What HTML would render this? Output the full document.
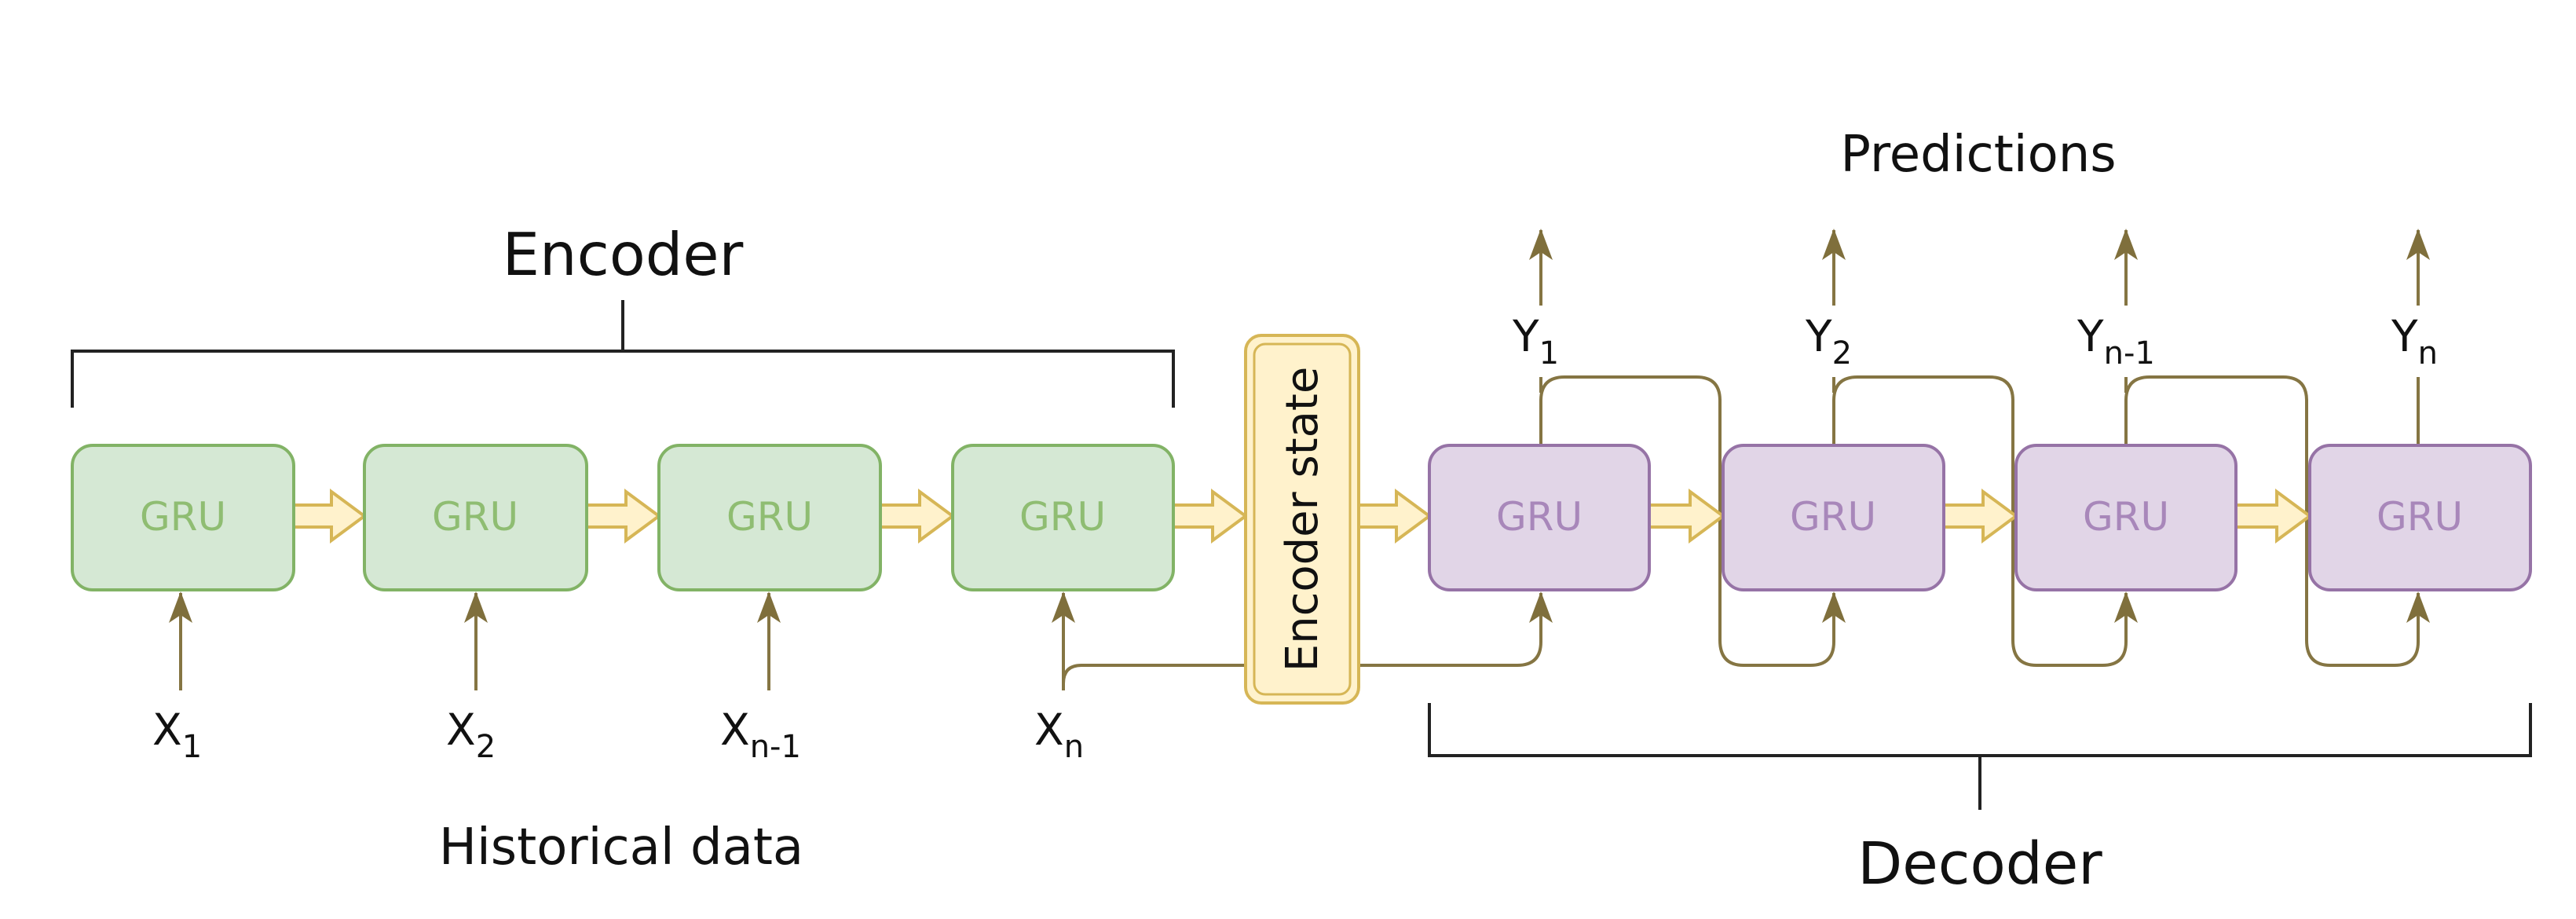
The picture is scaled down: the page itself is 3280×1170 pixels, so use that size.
<!DOCTYPE html>
<html><head><meta charset="utf-8"><style>
html,body{margin:0;padding:0;background:#fff;}
svg{display:block;}
text{font-family:"DejaVu Sans","Liberation Sans",sans-serif;}
</style></head><body>
<svg width="3280" height="1170" viewBox="0 0 3280 1170" xmlns="http://www.w3.org/2000/svg">
<defs>
<marker id="ah" viewBox="0 0 40 30" refX="38" refY="15" markerWidth="40" markerHeight="30" markerUnits="userSpaceOnUse" orient="auto">
<path d="M40,15 L0,0 L10,15 L0,30 Z" fill="#7f6f3c"/>
</marker>
</defs>
<rect width="3280" height="1170" fill="#fff"/>

<!-- Titles -->
<text x="793" y="350" font-size="75" text-anchor="middle" fill="#111">Encoder</text>
<text x="2519" y="218" font-size="64" text-anchor="middle" fill="#111">Predictions</text>
<text x="791" y="1100" font-size="64" text-anchor="middle" fill="#111">Historical data</text>
<text x="2521" y="1125" font-size="74" text-anchor="middle" fill="#111">Decoder</text>

<g stroke="#222" stroke-width="4" fill="none">
<path d="M92,519 V447 H1494 V519"/>
<path d="M793,447 V382"/>
<path d="M1820,895 V962 H3222 V895"/>
<path d="M2521,962 V1031"/>
</g>

<g stroke="#857543" stroke-width="4" fill="none">
<path d="M230,879 V755" marker-end="url(#ah)"/>
<path d="M606,879 V755" marker-end="url(#ah)"/>
<path d="M979,879 V755" marker-end="url(#ah)"/>
<path d="M1354,879 V755" marker-end="url(#ah)"/>
<path d="M1354,878 V870 Q1354,847 1377,847 H1932 Q1962,847 1962,817 V755" marker-end="url(#ah)"/>
<path d="M1962,389 V293" marker-end="url(#ah)"/>
<path d="M2335,389 V293" marker-end="url(#ah)"/>
<path d="M2707,389 V293" marker-end="url(#ah)"/>
<path d="M3079,389 V293" marker-end="url(#ah)"/>
<path d="M3079,567 V480"/>
<path d="M1962,567 V510 Q1962,480 1992,480 H2160 Q2190,480 2190,510 V815 Q2190,847 2220,847 H2305 Q2335,847 2335,817 V755" marker-end="url(#ah)"/>
<path d="M2335,567 V510 Q2335,480 2365,480 H2533 Q2563,480 2563,510 V815 Q2563,847 2593,847 H2677 Q2707,847 2707,817 V755" marker-end="url(#ah)"/>
<path d="M2707,567 V510 Q2707,480 2737,480 H2907 Q2937,480 2937,510 V815 Q2937,847 2967,847 H3049 Q3079,847 3079,817 V755" marker-end="url(#ah)"/>
<path d="M1962,480 V500"/><path d="M2335,480 V500"/><path d="M2707,480 V500"/>
</g>

<g fill="#fff2cc" stroke="#d6b656" stroke-width="4">
<polygon points="374,643 422,643 422,626 464,657 422,688 422,671 374,671"/>
<polygon points="747,643 797,643 797,626 839,657 797,688 797,671 747,671"/>
<polygon points="1121,643 1171,643 1171,626 1213,657 1171,688 1171,671 1121,671"/>
<polygon points="1494,643 1544,643 1544,626 1586,657 1544,688 1544,671 1494,671"/>
<polygon points="1730,643 1778,643 1778,626 1820,657 1778,688 1778,671 1730,671"/>
<polygon points="2100,643 2152,643 2152,626 2194,657 2152,688 2152,671 2100,671"/>
<polygon points="2475,643 2525,643 2525,626 2567,657 2525,688 2525,671 2475,671"/>
<polygon points="2847,643 2899,643 2899,626 2941,657 2899,688 2899,671 2847,671"/>
</g>

<g fill="#d5e8d4" stroke="#82b366" stroke-width="4">
<rect x="92" y="567" width="282" height="184" rx="26"/>
<rect x="464" y="567" width="283" height="184" rx="26"/>
<rect x="839" y="567" width="282" height="184" rx="26"/>
<rect x="1213" y="567" width="281" height="184" rx="26"/>
</g>
<g font-size="50" fill="#8fbd72" text-anchor="middle">
<text x="233" y="675">GRU</text>
<text x="605" y="675">GRU</text>
<text x="980" y="675">GRU</text>
<text x="1353" y="675">GRU</text>
</g>

<g fill="#e1d5e7" stroke="#9673a6" stroke-width="4">
<rect x="1820" y="567" width="280" height="184" rx="26"/>
<rect x="2194" y="567" width="281" height="184" rx="26"/>
<rect x="2567" y="567" width="280" height="184" rx="26"/>
<rect x="2941" y="567" width="281" height="184" rx="26"/>
</g>
<g font-size="50" fill="#a887ba" text-anchor="middle">
<text x="1960" y="675">GRU</text>
<text x="2334" y="675">GRU</text>
<text x="2707" y="675">GRU</text>
<text x="3081" y="675">GRU</text>
</g>

<rect x="1586" y="427" width="144" height="468" rx="20" fill="#fff2cc" stroke="#d6b656" stroke-width="4"/>
<rect x="1597" y="438" width="122" height="446" rx="14" fill="none" stroke="#d6b656" stroke-width="3"/>
<text transform="translate(1677,661) rotate(-90)" font-size="56" text-anchor="middle" fill="#111">Encoder state</text>

<g font-size="55" fill="#111">
<text x="194" y="948">X<tspan font-size="40" dy="16">1</tspan></text>
<text x="568" y="948">X<tspan font-size="40" dy="16">2</tspan></text>
<text x="917" y="948">X<tspan font-size="40" dy="16">n-1</tspan></text>
<text x="1317" y="948">X<tspan font-size="40" dy="16">n</tspan></text>
</g>
<g font-size="55" fill="#111">
<text x="1926" y="447">Y<tspan font-size="40" dy="16">1</tspan></text>
<text x="2299" y="447">Y<tspan font-size="40" dy="16">2</tspan></text>
<text x="2645" y="447">Y<tspan font-size="40" dy="16">n-1</tspan></text>
<text x="3045" y="447">Y<tspan font-size="40" dy="16">n</tspan></text>
</g>
</svg>
</body></html>
